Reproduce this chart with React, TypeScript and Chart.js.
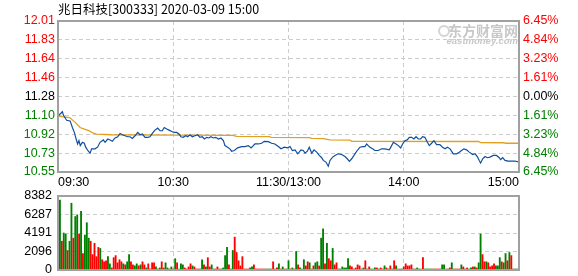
import React, { useEffect, useRef } from 'react';
import { Chart, registerables } from 'chart.js';
Chart.register(...registerables);

const titleText = '兆日科技[300333] 2020-03-09 15:00';
const priceMin = 10.55;
const priceMax = 12.01;
const priceTickLabels = ['10.55', '10.73', '10.92', '11.10', '11.28', '11.46', '11.64', '11.83', '12.01'];
const pctTickLabels = ['6.45%', '4.84%', '3.23%', '1.61%', '0.00%', '1.61%', '3.23%', '4.84%', '6.45%'];
const timeTickValues = [0, 60, 120, 180, 240];
const timeTickLabels = ['09:30', '10:30', '11:30/13:00', '14:00', '15:00'];
const volMax = 8382;
const volTickLabels = ['0', '2096', '4191', '6287', '8382'];

// [minute, price]
const pricePoints: [number, number][] = [
  [0, 11.09], [2.3, 11.133], [2.8, 11.1], [4.5, 11.05], [6.3, 11.044], [7.5, 10.98], [8.5, 10.933], [9.2, 10.885],
  [10.2, 10.821], [10.9, 10.853], [11.6, 10.805], [12.7, 10.837], [13.7, 10.828], [14.4, 10.79], [15.8, 10.751],
  [16.7, 10.732], [17.5, 10.774], [19.3, 10.774], [20.6, 10.79], [21.9, 10.837], [23.6, 10.86], [24.5, 10.837],
  [25.9, 10.869], [27.1, 10.86], [28.3, 10.847], [29.7, 10.879], [31.1, 10.891], [32.3, 10.923], [33.5, 10.91],
  [34.9, 10.9], [36.3, 10.891], [37.5, 10.891], [38.7, 10.875], [40.1, 10.9], [41.5, 10.933], [42.7, 10.91],
  [43.9, 10.917], [45.3, 10.885], [46.7, 10.885], [47.9, 10.891], [49.1, 10.923], [50.5, 10.955], [51.9, 10.974],
  [53.1, 10.949], [54.3, 10.949], [55.3, 10.98], [56.6, 10.965], [57.8, 10.955], [59.2, 10.942], [60.5, 10.933],
  [61.8, 10.933], [63, 10.917], [64, 10.891], [65.2, 10.885], [66.5, 10.9], [67.5, 10.891], [68.7, 10.91],
  [69.9, 10.891], [71.3, 10.9], [72.7, 10.91], [73.9, 10.885], [75.1, 10.891], [76.2, 10.869], [77.4, 10.885],
  [78.6, 10.879], [79.6, 10.891], [80.9, 10.879], [82.1, 10.885], [83.5, 10.869], [84.8, 10.879], [86.1, 10.853],
  [86.9, 10.805], [88.3, 10.79], [89.5, 10.774], [90.4, 10.751], [91.8, 10.758], [93.5, 10.783], [95.6, 10.796],
  [97.3, 10.796], [99.1, 10.805], [100.5, 10.783], [101.7, 10.805], [102.5, 10.821], [104.3, 10.821], [106, 10.828],
  [107.4, 10.847], [109.5, 10.844], [111.2, 10.828], [112.9, 10.821], [114.7, 10.796], [116.1, 10.774], [117.8, 10.79],
  [119.5, 10.783], [120.8, 10.796], [122, 10.758], [123.4, 10.764], [124.8, 10.726], [126.5, 10.764], [127.7, 10.758],
  [128.6, 10.732], [129.8, 10.751], [130.8, 10.79], [132.1, 10.732], [133.3, 10.764], [134.7, 10.742], [136, 10.71],
  [137.3, 10.688], [138.1, 10.662], [139.5, 10.646], [140.7, 10.605], [141.6, 10.662], [143, 10.694], [144.2, 10.71],
  [145.9, 10.726], [147.7, 10.719], [149.4, 10.7], [150.6, 10.678], [151.7, 10.653], [152.9, 10.678], [154.6, 10.726],
  [155.8, 10.758], [157.2, 10.79], [158.6, 10.796], [159.8, 10.796], [160.7, 10.821], [161.5, 10.805], [162.4, 10.79],
  [163.8, 10.774], [165, 10.758], [166.7, 10.758], [168.5, 10.774], [170.2, 10.774], [172.5, 10.764], [173.7, 10.805],
  [174.6, 10.837], [176, 10.821], [177.2, 10.805], [178.4, 10.783], [179.4, 10.821], [180.6, 10.853], [181.8, 10.86],
  [182.9, 10.885], [184.1, 10.885], [185.3, 10.869], [186.4, 10.891], [187.6, 10.869], [188.8, 10.869], [189.8, 10.891],
  [191, 10.885], [192.3, 10.837], [193.3, 10.805], [194.5, 10.828], [195.7, 10.853], [197.1, 10.815], [198.8, 10.815],
  [200.2, 10.79], [201.5, 10.774], [202.7, 10.79], [204.1, 10.774], [205.8, 10.726], [207.5, 10.726], [208.9, 10.742],
  [210.1, 10.758], [211.3, 10.774], [212.7, 10.764], [214.1, 10.742], [215.9, 10.719], [217.1, 10.726], [218.3, 10.7],
  [219.3, 10.662], [220, 10.637], [221.1, 10.678], [222.3, 10.7], [223.5, 10.688], [224.9, 10.694], [226.6, 10.71],
  [228.3, 10.71], [229.7, 10.688], [230.4, 10.669], [231.5, 10.688], [232.7, 10.662], [234.4, 10.656], [236.2, 10.656],
  [237.9, 10.656], [240, 10.646],
];

// [minute, average price]
const avgPoints: [number, number][] = [
  [0, 11.09], [6, 11.076], [9, 11.03], [11.5, 10.98], [13, 10.97], [16, 10.95], [18.5, 10.925], [20, 10.917],
  [28, 10.91], [60, 10.907], [91, 10.905], [93, 10.895], [110, 10.892], [111, 10.885], [131, 10.882], [132, 10.875],
  [138, 10.873], [141.5, 10.86], [152, 10.858], [153, 10.847], [219, 10.845], [220, 10.834], [232, 10.833],
  [233, 10.828], [240, 10.828],
];

// volume per minute 1..240
const volumes = [
  7915, 3259, 4190, 4074, 2212, 3259, 7566, 3608, 6053, 6247, 4074, 6635, 1862, 3958, 5354, 3608, 3259, 1746, 3026, 1513,
  2561, 2444, 1164, 931, 1048, 1513, 698, 233, 1397, 1630, 815, 1164, 931, 698, 582, 931, 1746, 931, 582, 466,
  698, 466, 582, 931, 582, 233, 698, 116, 815, 815, 349, 116, 233, 931, 233, 815, 233, 116, 349, 116,
  1280, 815, 116, 698, 582, 233, 116, 349, 698, 466, 349, 116, 116, 116, 1164, 582, 349, 1397, 349, 582,
  116, 116, 349, 116, 116, 233, 1630, 2561, 582, 116, 2212, 3724, 1979, 1048, 466, 1513, 116, 116, 116, 233,
  349, 582, 116, 116, 116, 116, 116, 116, 116, 116, 116, 931, 116, 233, 698, 116, 349, 116, 116, 1048,
  116, 233, 116, 2095, 582, 233, 116, 1164, 466, 931, 815, 116, 466, 815, 931, 466, 3608, 4656, 698, 3026,
  1280, 1048, 2444, 582, 815, 116, 116, 349, 233, 233, 1280, 466, 349, 116, 233, 582, 466, 116, 233, 1048,
  116, 349, 116, 116, 233, 233, 116, 233, 116, 466, 233, 116, 466, 116, 1048, 466, 116, 116, 116, 349,
  698, 466, 466, 582, 116, 116, 233, 116, 116, 1397, 116, 116, 116, 116, 116, 116, 116, 116, 116, 582,
  582, 116, 116, 233, 815, 116, 116, 116, 116, 582, 349, 116, 233, 116, 233, 349, 349, 233, 815, 4074,
  1746, 931, 931, 815, 349, 466, 698, 466, 466, 1397, 931, 815, 1862, 1048, 1979, 1630, 116, 116, 116, 2328,
];
// r = up (red), g = down (green)
const volumeDirs =
  'grggrggrggrgrgggrrrr' +
  'rgrrrggrrrrrrgrggrrg' +
  'grgrrgrrrrgrgrrggrgr' +
  'grgggrrrrgrrrggrgrrg' +
  'grrgrgggrggrrrrrrrrg' +
  'grrrrrrrgggrgrgrgrgg' +
  'rgrgrgggrrgrrggrggrg' +
  'rrgrrggggggrrrrrrggr' +
  'grgggrgrrgrgrgrgrggr' +
  'rrrrgrgggrggggrgrrgg' +
  'grgrgrgrrgrgrggrgrgg' +
  'rrgrrrrgggrggrgrrggg';

const FONT = '"Liberation Sans", Arial, sans-serif';
const RED = '#ff0000';
const GREEN = '#008000';
const GRID = '#cccccc';

const framePlugin = {
  id: 'frame',
  afterDraw(chart: any) {
    const { ctx, chartArea: a } = chart;
    ctx.save();
    ctx.strokeStyle = '#a0a0a0';
    ctx.lineWidth = 2;
    ctx.strokeRect(a.left, a.top, a.right - a.left, a.bottom - a.top);
    ctx.restore();
  },
};

const titlePlugin = {
  id: 'titleText',
  afterDraw(chart: any) {
    const { ctx, chartArea: a } = chart;
    ctx.save();
    ctx.font = '12.5px "Noto Sans CJK SC", sans-serif';
    ctx.fillStyle = '#000';
    ctx.textAlign = 'left';
    ctx.textBaseline = 'middle';
    ctx.fillText(titleText, a.left, 9.5);
    ctx.restore();
  },
};

const watermarkPlugin = {
  id: 'watermark',
  beforeDatasetsDraw(chart: any) {
    const { ctx, chartArea: a } = chart;
    ctx.save();
    ctx.strokeStyle = '#d4d4d4';
    ctx.lineWidth = 2;
    ctx.beginPath();
    ctx.arc(a.right - 75, a.top + 10, 5, 0, Math.PI * 2);
    ctx.stroke();
    ctx.fillStyle = '#c8c8c8';
    ctx.textAlign = 'right';
    ctx.textBaseline = 'middle';
    ctx.font = 'bold 14px "Noto Sans CJK SC", sans-serif';
    ctx.fillText('东方财富网', a.right - 1, a.top + 9.5);
    ctx.font = 'italic bold 9.5px "Liberation Sans", Arial, sans-serif';
    ctx.fillText('eastmoney.com', a.right - 1, a.top + 20.5);
    ctx.restore();
  },
};

const priceColor = (c: any) => (c.index < 4 ? GREEN : c.index === 4 ? '#000' : RED);

export default function App() {
  const priceRef = useRef<HTMLCanvasElement | null>(null);
  const volRef = useRef<HTMLCanvasElement | null>(null);

  useEffect(() => {
    const priceTicks = (s: any) => {
      s.ticks = priceTickLabels.map((_, k) => ({ value: priceMin + (k * (priceMax - priceMin)) / 8 }));
    };
    const timeTicks = (s: any) => {
      s.ticks = timeTickValues.map((v) => ({ value: v }));
    };
    const c1 = new Chart(priceRef.current!, {
      type: 'line',
      data: {
        datasets: [
          {
            data: pricePoints.map(([x, y]) => ({ x, y })),
            borderColor: '#0f4f9f',
            borderWidth: 1.2,
            pointRadius: 0,
            tension: 0,
            yAxisID: 'y',
          },
          {
            data: avgPoints.map(([x, y]) => ({ x, y })),
            borderColor: '#e0a020',
            borderWidth: 1.3,
            pointRadius: 0,
            tension: 0,
            yAxisID: 'y',
          },
        ],
      },
      options: {
        responsive: false,
        animation: false,
        devicePixelRatio: 1,
        layout: { padding: { top: 21, left: 0, right: 0, bottom: 0 } },
        plugins: { legend: { display: false }, tooltip: { enabled: false }, title: { display: false } },
        scales: {
          x: {
            type: 'linear',
            min: 0,
            max: 240,
            afterBuildTicks: timeTicks,
            afterFit: (s: any) => { s.height = 16; },
            ticks: {
              callback: (_v: any, i: number) => timeTickLabels[i],
              align: 'inner',
              maxRotation: 0,
              autoSkip: false,
              padding: 3,
              color: '#000',
              font: { family: FONT, size: 12.5 },
            },
            grid: { color: GRID, drawTicks: false },
            border: { display: false, dash: [4, 3] },
          },
          y: {
            position: 'left',
            min: priceMin,
            max: priceMax,
            afterBuildTicks: priceTicks,
            afterFit: (s: any) => { s.width = 58; },
            ticks: {
              callback: (_v: any, i: number) => priceTickLabels[i],
              color: priceColor,
              padding: 3,
              autoSkip: false,
              font: { family: FONT, size: 12.5 },
            },
            grid: { color: GRID, drawTicks: false },
            border: { display: false, dash: [4, 3] },
          },
          y2: {
            position: 'right',
            min: priceMin,
            max: priceMax,
            afterBuildTicks: priceTicks,
            afterFit: (s: any) => { s.width = 59; },
            ticks: {
              callback: (_v: any, i: number) => pctTickLabels[i],
              color: priceColor,
              padding: 4,
              autoSkip: false,
              font: { family: FONT, size: 12.5 },
            },
            grid: { display: false, drawTicks: false },
            border: { display: false },
          },
        },
      } as any,
      plugins: [watermarkPlugin, titlePlugin, framePlugin],
    });

    const c2 = new Chart(volRef.current!, {
      type: 'bar',
      data: {
        datasets: [
          {
            data: volumes.map((v, i) => ({ x: i + 1, y: v })),
            backgroundColor: volumes.map((_, i) => (volumeDirs[i] === 'r' ? RED : GREEN)),
            borderWidth: 0,
            barThickness: 1.2,
          },
        ],
      },
      options: {
        responsive: false,
        animation: false,
        devicePixelRatio: 1,
        layout: { padding: { top: 8, bottom: 6, right: 59, left: 0 } },
        plugins: { legend: { display: false }, tooltip: { enabled: false } },
        scales: {
          x: {
            type: 'linear',
            min: 0,
            max: 240,
            offset: false,
            afterBuildTicks: timeTicks,
            afterFit: (s: any) => { s.height = 0; s.paddingLeft = 0; s.paddingRight = 0; },
            ticks: { display: false },
            grid: { color: GRID, drawTicks: false, offset: false },
            border: { display: false, dash: [4, 3] },
          },
          y: {
            min: 0,
            max: volMax,
            afterBuildTicks: (s: any) => {
              s.ticks = volTickLabels.map((_, k) => ({ value: (k * volMax) / 4 }));
            },
            afterFit: (s: any) => { s.width = 58; s.paddingTop = 0; s.paddingBottom = 0; },
            ticks: {
              callback: (_v: any, i: number) => volTickLabels[i],
              color: '#000',
              padding: 6,
              autoSkip: false,
              font: { family: FONT, size: 12.5 },
            },
            grid: { color: GRID, drawTicks: false },
            border: { display: false, dash: [4, 3] },
          },
        },
      } as any,
      plugins: [framePlugin],
    });

    return () => {
      c1.destroy();
      c2.destroy();
    };
  }, []);

  return (
    <div style={{ position: 'fixed', left: 0, top: 0, width: 578, height: 276, background: '#fff' }}>
      <canvas ref={priceRef} width={578} height={188} style={{ display: 'block', width: 578, height: 188 }} />
      <canvas ref={volRef} width={578} height={88} style={{ display: 'block', width: 578, height: 88 }} />
    </div>
  );
}
